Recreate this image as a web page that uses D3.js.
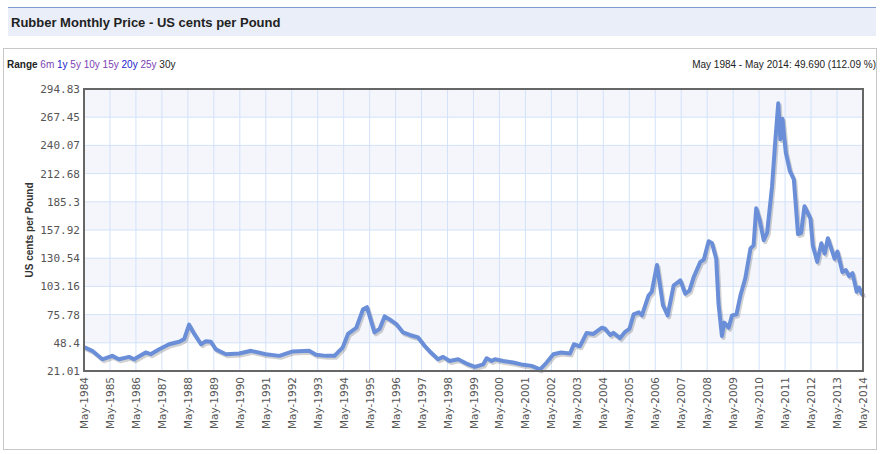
<!DOCTYPE html>
<html>
<head>
<meta charset="utf-8">
<script src="https://cdn.jsdelivr.net/npm/d3@7"></script>
<style>
  body { margin: 0; background: #fff; font-family: Arial, "Liberation Sans", sans-serif; }
</style>
</head>
<body>
<svg id="chart" width="883" height="454"></svg>
<script>
// decimal years and prices (US cents per pound)
const years = [
  1984.33, 1984.65, 1985.04, 1985.42, 1985.68, 1986.07, 1986.26, 1986.71, 1986.9, 1987.23,
  1987.61, 1988.0, 1988.19, 1988.38, 1988.58, 1988.84, 1989.03, 1989.22, 1989.41, 1989.8,
  1990.31, 1990.77, 1991.34, 1991.86, 1992.37, 1993.0, 1993.27, 1993.66, 1993.98, 1994.3,
  1994.5, 1994.82, 1995.08, 1995.23, 1995.52, 1995.72, 1995.91, 1996.17, 1996.36, 1996.62,
  1996.88, 1997.2, 1997.45, 1997.65, 1997.97, 1998.16, 1998.42, 1998.74, 1999.06, 1999.39,
  1999.71, 1999.84, 2000.03, 2000.16, 2000.48, 2000.86, 2001.25, 2001.57, 2001.9, 2002.15,
  2002.41, 2002.7, 2003.05, 2003.2, 2003.43, 2003.69, 2003.95, 2004.27, 2004.4, 2004.6,
  2004.72, 2004.98, 2005.17, 2005.34, 2005.5, 2005.7, 2005.82, 2006.07, 2006.2, 2006.4,
  2006.63, 2006.81, 2007.04, 2007.3, 2007.49, 2007.65, 2007.81, 2008.07, 2008.2, 2008.39,
  2008.52, 2008.68, 2008.77, 2008.9, 2008.99, 2009.16, 2009.29, 2009.46, 2009.61, 2009.8,
  2010.0, 2010.12, 2010.22, 2010.35, 2010.51, 2010.64, 2010.83, 2010.96, 2011.07, 2011.15,
  2011.23, 2011.36, 2011.52, 2011.67, 2011.83, 2011.95, 2012.08, 2012.31, 2012.4, 2012.57,
  2012.73, 2012.86, 2012.98, 2013.24, 2013.35, 2013.54, 2013.67, 2013.8, 2013.93, 2014.09,
  2014.18, 2014.33
]
const prices = [
  44.3, 40.6, 32.4, 35.7, 32.4, 34.7, 32.4, 39, 37.3, 42.2,
  47, 49.4, 52, 66, 57, 47, 50, 49.4, 42, 37.3,
  38, 40.6, 37.3, 35.7, 40, 40.6, 36.7, 35.7, 35.7, 44,
  57, 63, 81, 83, 58.5, 62, 74, 70, 66.6, 58.5,
  56, 53.6, 45.5, 40, 32.4, 34.7, 30.8, 32.4, 28.2, 25,
  27.5, 33.4, 30.8, 32.4, 30.8, 29.2, 27, 26, 22.6, 29.2,
  37.3, 39, 38, 47, 45, 58, 57, 63, 62, 56,
  58, 53, 59, 62, 76, 78, 75, 94, 98, 124,
  85, 75, 104, 109, 96, 99, 112, 127, 129, 147,
  145, 130, 86, 55, 68, 63, 75, 76, 94, 111,
  140, 143, 179, 168, 148, 155, 200, 246, 281, 246,
  266, 233, 215, 207, 154, 155, 181, 169, 143, 127,
  145, 135, 150, 130, 137, 117, 119, 113, 116, 98,
  102, 94.02
]
const yTicks = [21.01, 48.4, 75.78, 103.16, 130.54, 157.92, 185.3, 212.68, 240.07, 267.45, 294.83]
const xTickYears = d3.range(1984, 2015)
const rangeLinks = ['6m', '1y', '5y', '10y', '15y', '20y', '25y', '30y']
const rangeColors = ['#7b3fb3', '#1a1acc', '#7b3fb3', '#7b3fb3', '#7b3fb3', '#1a1acc', '#7b3fb3', '#222']

const svg = d3.select('#chart')
const pLeft = 84, pRight = 863, pTop = 89, pBottom = 371

// frames and title
svg.append('rect').attr('x', 3.5).attr('y', 48.5).attr('width', 873).attr('height', 401)
  .attr('fill', 'none').attr('stroke', '#c8c8c8')
svg.append('rect').attr('x', 8).attr('y', 7).attr('width', 868).attr('height', 29).attr('fill', '#eaeef8')
svg.append('line').attr('x1', 8).attr('x2', 876).attr('y1', 7.5).attr('y2', 7.5).attr('stroke', '#7d9bd0')
svg.append('text').attr('x', 11).attr('y', 27).attr('font-size', 13).attr('font-weight', 'bold')
  .attr('fill', '#222').text('Rubber Monthly Price - US cents per Pound')

const range = svg.append('text').attr('x', 7).attr('y', 68).attr('font-size', 10)
range.append('tspan').attr('font-weight', 'bold').attr('fill', '#222').text('Range ')
rangeLinks.forEach((r, i) => range.append('tspan').attr('fill', rangeColors[i]).text(r + (i < rangeLinks.length - 1 ? ' ' : '')))
svg.append('text').attr('x', 876).attr('y', 68).attr('text-anchor', 'end').attr('font-size', 10)
  .attr('fill', '#222').text('May 1984 - May 2014: 49.690 (112.09 %)')

const x = d3.scaleLinear().domain([1984 + 4 / 12, 2014 + 4 / 12]).range([pLeft, pRight])
const y = d3.scaleLinear().domain([21.01, 294.83]).range([pBottom, pTop])

// alternating bands
const bands = d3.pairs(yTicks).reverse()
svg.selectAll('.band').data(bands).enter().append('rect')
  .attr('x', pLeft).attr('width', pRight - pLeft)
  .attr('y', d => y(d[1])).attr('height', d => y(d[0]) - y(d[1]))
  .attr('fill', (d, i) => i % 2 === 0 ? '#f4f6fc' : '#fff')

// grid
svg.selectAll('.hg').data(yTicks).enter().append('line')
  .attr('x1', pLeft).attr('x2', pRight).attr('y1', d => y(d)).attr('y2', d => y(d))
  .attr('stroke', '#d3e2fa')
svg.selectAll('.vg').data(xTickYears).enter().append('line')
  .attr('x1', d => x(d + 4 / 12)).attr('x2', d => x(d + 4 / 12)).attr('y1', pTop).attr('y2', pBottom)
  .attr('stroke', '#d3e2fa')

// y axis labels
svg.selectAll('.yl').data(yTicks).enter().append('text')
  .attr('x', pLeft - 4).attr('y', d => y(d) + 4).attr('text-anchor', 'end')
  .attr('font-size', 11).attr('font-family', 'DejaVu Sans Mono, monospace').attr('fill', '#555')
  .text(d => d)
svg.append('text').attr('transform', `translate(33,${(pTop + pBottom) / 2}) rotate(-90)`)
  .attr('text-anchor', 'middle').attr('font-size', 10).attr('font-weight', 'bold').attr('fill', '#333')
  .text('US cents per Pound')

// x axis labels
svg.selectAll('.xl').data(xTickYears).enter().append('text')
  .attr('transform', d => `translate(${x(d + 4 / 12) + 4},${pBottom + 6}) rotate(-90)`)
  .attr('text-anchor', 'end').attr('font-size', 10.5).attr('fill', '#555')
  .attr('font-family', 'DejaVu Sans, sans-serif')
  .text(d => 'May-' + d)

// line with shadow
const pts = years.map((yr, i) => [yr, prices[i]])
const line = d3.line().x(d => x(d[0])).y(d => y(d[1]))
svg.append('path').datum(pts).attr('d', line).attr('fill', 'none')
  .attr('stroke', 'rgba(0,0,0,0.18)').attr('stroke-width', 4).attr('transform', 'translate(1.5,2)')
  .attr('stroke-linejoin', 'round')
svg.append('path').datum(pts).attr('d', line).attr('fill', 'none')
  .attr('stroke', '#6a8fd8').attr('stroke-width', 4).attr('stroke-linejoin', 'round')

// plot border
svg.append('rect').attr('x', pLeft).attr('y', pTop).attr('width', pRight - pLeft).attr('height', pBottom - pTop)
  .attr('fill', 'none').attr('stroke', '#666').attr('stroke-width', 2)
</script>
</body>
</html>
